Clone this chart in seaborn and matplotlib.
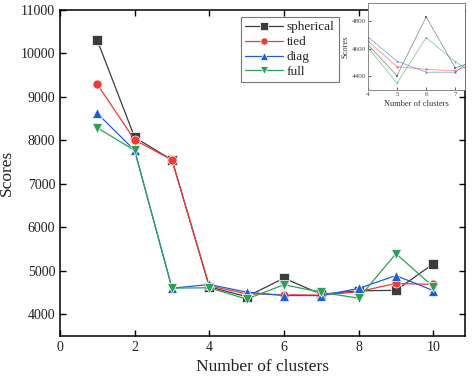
import numpy as np
import pandas as pd
import matplotlib
matplotlib.use("Agg")
import matplotlib.pyplot as plt
import seaborn as sns

clusters = [1, 2, 3, 4, 5, 6, 7, 8, 9, 10]
spherical = [10300, 8070, 7550, 4630, 4405, 4830, 4460, 4540, 4550, 5160]
tied = [9290, 8010, 7550, 4655, 4470, 4450, 4440, 4520, 4710, 4686]
diag = [8620, 7770, 4600, 4685, 4510, 4430, 4430, 4595, 4890, 4545]
full = [8290, 7770, 4600, 4610, 4350, 4680, 4505, 4370, 5395, 4635]
series_names = ["spherical", "tied", "diag", "full"]

df = pd.DataFrame({
    "Number of clusters": clusters * 4,
    "Scores": spherical + tied + diag + full,
    "type": sum([[n] * len(clusters) for n in series_names], []),
})

palette = {"spherical": "#3c3c3c", "tied": "#f03a3a", "diag": "#1f5fd6", "full": "#2ea05a"}
markers = {"spherical": "s", "tied": "o", "diag": "^", "full": "v"}

sns.set_theme(style="ticks")
plt.rcParams["font.family"] = ["Liberation Serif", "DejaVu Serif"]
plt.rcParams["xtick.direction"] = "in"
plt.rcParams["ytick.direction"] = "in"

fig = plt.figure(figsize=(4.74, 3.82), dpi=100)
ax = fig.add_axes([0.1266, 0.1204, 0.981 - 0.1266, 0.9738 - 0.1204])

sns.lineplot(data=df, x="Number of clusters", y="Scores", hue="type", style="type",
             markers=markers, dashes=False, palette=palette, linewidth=0.9,
             markersize=6.5, markeredgewidth=0.5, ax=ax)
ax.set_xlim(0, 10.85)
ax.set_ylim(3500, 11000)
ax.set_xticks([0, 2, 4, 6, 8, 10])
ax.set_yticks([4000, 5000, 6000, 7000, 8000, 9000, 10000, 11000])
ax.tick_params(axis="both", which="major", labelsize=10, length=4, width=1,
               top=True, right=True, color="black", labelcolor="#222222")
for s in ax.spines.values():
    s.set_linewidth(1.1)
    s.set_color("black")
ax.set_xlabel("Number of clusters", fontsize=12.5, color="#222222")
ax.set_ylabel("Scores", fontsize=12.5, color="#222222")

leg = ax.legend(loc="upper left", bbox_to_anchor=(0.508, 0.955),
                bbox_transform=fig.transFigure, fontsize=9.5, frameon=True,
                fancybox=False, edgecolor="#555555", handlelength=2.9,
                borderpad=0.3, labelspacing=0.2, handletextpad=0.3,
                borderaxespad=0, markerscale=0.8)
leg.get_frame().set_linewidth(0.8)
leg.set_title(None)

# inset
axi = fig.add_axes([0.776, 0.764, 0.205, 0.228])
sns.lineplot(data=df, x="Number of clusters", y="Scores", hue="type", style="type",
             markers=markers, dashes=False, palette=palette, linewidth=0.5,
             markersize=1.8, markeredgewidth=0, alpha=0.65, legend=False, ax=axi)
axi.set_xlim(4, 7.33)
axi.set_ylim(4300, 4930)
axi.set_xticks([4, 5, 6, 7])
axi.set_yticks([4400, 4600, 4800])
axi.tick_params(axis="both", labelsize=5, length=2, width=0.6, pad=1.5,
                colors="#444444")
for s in axi.spines.values():
    s.set_linewidth(0.6)
    s.set_color("#777777")
axi.set_xlabel("Number of clusters", fontsize=6, labelpad=2, color="#333333")
axi.set_ylabel("Scores", fontsize=6, labelpad=1.5, color="#333333")

fig.savefig("out.png", dpi=100)
